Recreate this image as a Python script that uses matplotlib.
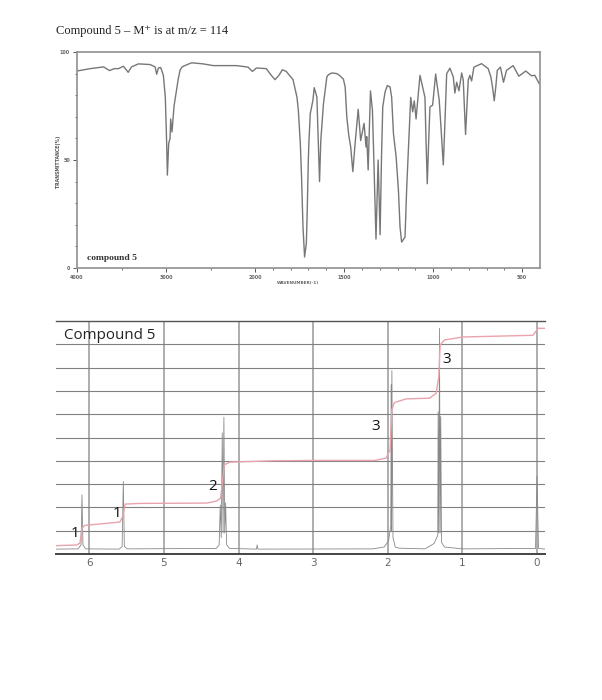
import numpy as np
import matplotlib
matplotlib.use("Agg")
import matplotlib.pyplot as plt

# IR spectrum
ir_wn = [4000, 3851, 3701, 3634, 3582, 3534, 3478, 3425, 3388, 3310, 3179, 3123, 3105, 3086, 3060,
         3030, 3008, 2993, 2985, 2970, 2955, 2948, 2933, 2910, 2880, 2862, 2843, 2825, 2806, 2713, 2582, 2470,
         2209, 2079, 2030, 1993, 1937, 1909, 1888, 1866, 1847, 1825, 1787, 1765, 1757, 1746, 1739, 1731, 1722,
         1712, 1707, 1701, 1698, 1690,
         1675, 1668, 1653, 1638, 1631, 1616, 1597, 1588, 1569, 1541, 1522, 1504, 1494, 1485, 1474, 1463, 1451, 1440,
         1421, 1407, 1388, 1377, 1373, 1365, 1352, 1341, 1336, 1321, 1309, 1298, 1290, 1283, 1270, 1257, 1242, 1233,
         1223, 1208, 1195, 1186,
         1177, 1158, 1149, 1145, 1126, 1115, 1106, 1096, 1074, 1046, 1040, 1033, 1025, 1018, 1003, 986, 966, 958, 943,
         934, 924, 906, 887, 878, 868, 855, 840, 831, 818, 803, 794, 784, 771, 728, 691,
         676, 667, 657, 648, 640, 622, 605, 588, 551, 519, 480, 448, 429, 405]
ir_t = [91.2, 92.3, 93.1, 91.4, 92.3, 92.3, 93.4, 90.6, 93.1, 94.5, 94.2, 93.1, 89.7, 92.6, 92.8,
        89.2, 79, 57.7, 43, 57.7, 60, 69, 63, 75, 83, 87.7, 91.5, 92.8, 93.4, 95, 94.5, 93.7,
        93.7, 93, 91, 92.6, 92.3, 89.2, 87.2, 89.2, 91.8, 91, 87.2, 79.2, 73, 57.7, 42, 19.2, 5.1,
        11.5, 27, 50, 57.7, 71.5,
        77.7, 83.5, 79.2, 40, 59, 76, 88.5, 89.5, 90.3, 90, 88.9, 87.4, 83.8, 70, 61.5, 56, 44.6, 56,
        73.5, 59, 67, 56, 60.8, 45.4, 82, 73, 59, 13.4, 50, 15.4, 51.5, 74.6, 81.5, 84.5, 83.8, 79,
        62.3, 51.5, 36, 19,
        12, 14.3, 36, 43.8, 79, 72.3, 77.4, 69, 89.2, 79, 59, 39, 59, 74.6, 75.4, 89.8, 77.7, 67.7, 47.7,
        67, 90, 92.5, 88.5, 81, 86, 82, 90.3, 87, 61.8, 87, 89.2, 86.6, 93, 94.6, 92.3,
        88.5, 84, 77.4, 84, 91.5, 93, 86, 91.5, 93.7, 88.8, 91.2, 89, 89.2, 85.4]
ir_major = [4000, 3000, 2000, 1500, 1000, 500]
ir_minor = [3500, 2500, 1900, 1800, 1700, 1600, 1400, 1300, 1200, 1100, 900, 800, 700, 600]

# NMR trace and integral curve
nmr_ppm = [6.446, 6.15, 6.11, 6.098, 6.085, 6.05, 5.6, 5.56, 5.544, 5.53, 5.49, 4.3, 4.26, 4.245,
           4.232, 4.218, 4.207, 4.196, 4.185, 4.173, 4.16, 4.12, 3.76, 3.75, 3.74, 2.2, 2.05, 1.99,
           1.96, 1.953, 1.949, 1.945, 1.93, 1.9, 1.85, 1.5, 1.38, 1.33, 1.325, 1.316, 1.307, 1.298,
           1.29, 1.28, 1.24, 1.0, 0.02, 0.0, -0.02, -0.107]
nmr_int = [.21, .22, .4, 2.54, .4, .22, .21, .32, 3.11, .32, .22, .24, .38, 2.1,
           .7, 5.2, .9, 5.87, .9, 2.2, .4, .24, .21, .39, .21, .22, .3, .55,
           1.2, 7.26, 1.0, 7.87, .7, .3, .25, .22, .45, .8, 6.1, .9, 9.69, .9,
           5.9, .5, .3, .22, .24, 3.33, .24, .21]
integ_ppm = [6.446, 6.17, 6.125, 6.098, 6.058, 5.589, 5.553, 5.518, 5.321, 4.428, 4.294, 4.24, 4.213,
             4.191, 4.115, 3.535, 3.043, 2.179, 2.022, 1.969, 1.946, 1.911, 1.754, 1.441, 1.352,
             1.316, 1.298, 1.24, 0.994, 0.055, 0.001, -0.012, -0.107]
integ_val = [.357, .386, .471, 1.114, 1.229, 1.371, 1.614, 2.143, 2.171, 2.186, 2.271, 2.4, 3.186,
             3.829, 3.943, 4.0, 4.014, 4.014, 4.114, 4.471, 6.186, 6.5, 6.657, 6.686, 6.9,
             7.614, 8.971, 9.186, 9.314, 9.386, 9.614, 9.686, 9.686]
nmr_ticks = [6, 5, 4, 3, 2, 1, 0]
integ_labels = ["1", "1", "2", "3", "3"]
label_ppm = [6.197, 5.63, 4.352, 2.165, 1.204]
label_y = [.9, 1.73, 2.89, 5.47, 8.33]


def wn_fwd(w):
    w = np.asarray(w, dtype=float)
    return np.where(w < 2000, w, 2000 + (w - 2000) / 2)


def wn_inv(p):
    p = np.asarray(p, dtype=float)
    return np.where(p < 2000, p, 2000 + (p - 2000) * 2)


def px_axes(fig, left, top, right, bottom):
    W, H = 602, 700
    return fig.add_axes([left / W, 1 - bottom / H, (right - left) / W, (bottom - top) / H])


fig = plt.figure(figsize=(6.02, 7.0), dpi=100)
fig.text(56 / 602, 1 - 31 / 700, "Compound 5 – M⁺ is at m/z = 114", fontsize=9.0, va="center",
         family=["Liberation Serif", "DejaVu Serif"], color="#222222")

# top panel, IR
ax = px_axes(fig, 77, 52, 540, 268)
ax.set_xscale("function", functions=(wn_fwd, wn_inv))
ax.plot(ir_wn, ir_t, color="#777777", lw=1.0, solid_joinstyle="round")
ax.set_xlim(4000, 400)
ax.set_ylim(0, 100)
ax.set_xticks(ir_major)
ax.set_xticks(ir_minor, minor=True)
ax.set_xticklabels([str(v) for v in ir_major], fontsize=3.5, fontweight="bold", color="#666666")
ax.set_yticks([0, 50, 100])
ax.set_yticks(np.arange(10, 100, 10), minor=True)
ax.set_yticklabels(["0", "50", "100"], fontsize=3.5, fontweight="bold", color="#666666")
ax.tick_params(which="major", length=3, width=0.7, color="#555555", pad=2)
ax.tick_params(which="minor", length=1.5, width=0.6, color="#555555")
for s in ax.spines.values():
    s.set_color("#909090")
    s.set_linewidth(1.2)
fig.text(298 / 602, 1 - 283 / 700, "WAVENUMBER(-1)", fontsize=3.0, fontweight="bold", color="#666666",
         ha="center", va="center")
fig.text(58 / 602, 1 - 162 / 700, "TRANSMITTANCE(%)", fontsize=3.3, fontweight="bold", color="#555555",
         rotation=90, ha="center", va="center")
fig.text(87 / 602, 1 - 258 / 700, "compound 5", fontsize=6.8, fontweight="bold", va="center",
         family="Liberation Serif", color="#333333")

# bottom panel, NMR
ax2 = px_axes(fig, 56, 321, 545, 554)
ax2.set_xlim(6.446, -0.107)
ax2.set_ylim(0, 10)
ax2.set_xticks(nmr_ticks)
ax2.set_yticks(range(1, 10))
ax2.grid(axis="y", color="#808080", lw=0.8)
ax2.grid(axis="x", color="#a0a0a0", lw=1.2)
ax2.set_axisbelow(True)
ax2.plot(nmr_ppm, nmr_int, color="#888888", lw=0.6)
ax2.plot(integ_ppm, integ_val, color="#e8a3ad", lw=1.0)
ax2.tick_params(axis="y", length=0, labelleft=False)
ax2.tick_params(axis="x", length=0, labelsize=7.5, labelcolor="#666666", pad=3)
ax2.spines["left"].set_visible(False)
ax2.spines["right"].set_visible(False)
ax2.spines["top"].set_color("#555555")
ax2.spines["top"].set_linewidth(1.0)
ax2.spines["bottom"].set_color("#444444")
ax2.spines["bottom"].set_linewidth(1.4)
ax2.text(6.335, 9.36, "Compound 5", fontsize=10.9, family="Open Sans", va="center", color="#222222")
for lab, p, y in zip(integ_labels, label_ppm, label_y):
    ax2.text(p, y, lab, fontsize=11, family="Open Sans", ha="center", va="center", color="#111111")

fig.savefig("out.png", dpi=100)
